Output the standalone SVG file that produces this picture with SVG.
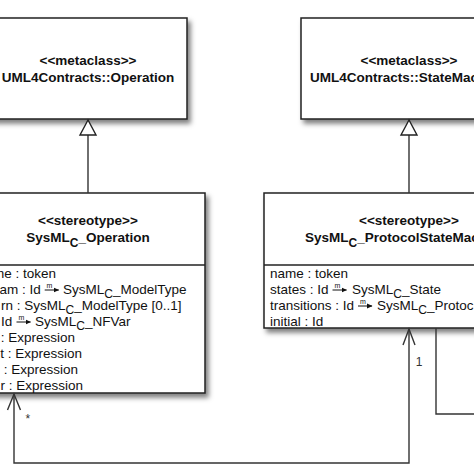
<svg xmlns="http://www.w3.org/2000/svg" width="474" height="474" viewBox="0 0 474 474">
<defs>
<filter id="sh" x="-10%" y="-10%" width="130%" height="140%">
<feDropShadow dx="3" dy="4" stdDeviation="2.5" flood-color="#000" flood-opacity="0.5"/>
</filter>
<marker id="mh" markerWidth="6" markerHeight="6" refX="5" refY="3" orient="auto" markerUnits="userSpaceOnUse">
<path d="M0,0.5 L5.5,3 L0,5.5 Z" fill="#111"/>
</marker>
<style>
.box{fill:#fff;stroke:#222;stroke-width:1.5;filter:url(#sh)}
.dv{stroke:#222;stroke-width:1.5}
.ln{stroke:#333;stroke-width:1.4;fill:none}
.tri{fill:#fff;stroke:#222;stroke-width:1.4}
.t{font-family:"Liberation Sans",Arial,Helvetica,sans-serif;font-size:13.5px;fill:#111}
.b{font-weight:bold}
.sub{font-size:12px}
.mm{font-family:"Liberation Sans",Arial,sans-serif;font-size:7px;fill:#111}
.ma{stroke:#111;stroke-width:1;fill:none}
.lbl{font-family:"Liberation Sans",Arial,sans-serif;font-size:12px;fill:#333}
</style>
</defs>
<rect width="474" height="474" fill="#fff"/>

<g id="op_meta">
<rect class="box" x="-11" y="18" width="198" height="101"/>
<text class="t b" x="88" y="65" text-anchor="middle">&lt;&lt;metaclass&gt;&gt;</text>
<text class="t b" x="88" y="82" text-anchor="middle">UML4Contracts::Operation</text>
</g>

<g id="sm_meta">
<rect class="box" x="301" y="18" width="230" height="101"/>
<text class="t b" x="409" y="65" text-anchor="middle">&lt;&lt;metaclass&gt;&gt;</text>
<text class="t b" x="310" y="82">UML4Contracts::StateMac</text>
</g>

<g id="op_stereo">
<rect class="box" x="-29" y="193" width="234" height="200"/>
<line class="dv" x1="-29" y1="265" x2="205" y2="265"/>
<text class="t b" x="88" y="225" text-anchor="middle">&lt;&lt;stereotype&gt;&gt;</text>
<text class="t b" x="88" y="242" text-anchor="middle">SysML<tspan class="sub" dy="5">C</tspan><tspan dy="-5">_Operation</tspan></text>
<text class="t" x="-7" y="278">me : token</text>
<text class="t" x="-0.6" y="294">am : Id</text>
<text class="mm" x="49.5" y="288" text-anchor="middle">m</text>
<path class="ma" d="M44.7,290 L58.7,290" marker-end="url(#mh)"/>
<text class="t" x="63" y="294">SysML<tspan class="sub" dy="4">C</tspan><tspan dy="-4">_ModelType</tspan></text>
<text class="t" x="1" y="310">rn : SysML<tspan class="sub" dy="4">C</tspan><tspan dy="-4">_ModelType [0..1]</tspan></text>
<text class="t" x="1" y="326">Id</text>
<text class="mm" x="21.5" y="320" text-anchor="middle">m</text>
<path class="ma" d="M16.5,322 L30.5,322" marker-end="url(#mh)"/>
<text class="t" x="35" y="326">SysML<tspan class="sub" dy="4">C</tspan><tspan dy="-4">_NFVar</tspan></text>
<text class="t" x="0.7" y="342">: Expression</text>
<text class="t" x="0.2" y="358">t : Expression</text>
<text class="t" x="3.7" y="374">: Expression</text>
<text class="t" x="0.5" y="390">r : Expression</text>
</g>

<g id="psm_stereo">
<rect class="box" x="264" y="193" width="290" height="135"/>
<line class="dv" x1="264" y1="265" x2="554" y2="265"/>
<text class="t b" x="409" y="225" text-anchor="middle">&lt;&lt;stereotype&gt;&gt;</text>
<text class="t b" x="305" y="242">SysML<tspan class="sub" dy="5">C</tspan><tspan dy="-5">_ProtocolStateMac</tspan></text>
<text class="t" x="270" y="278">name : token</text>
<text class="t" x="270" y="294">states : Id</text>
<text class="mm" x="337.5" y="288" text-anchor="middle">m</text>
<path class="ma" d="M332.5,290 L346.5,290" marker-end="url(#mh)"/>
<text class="t" x="352" y="294">SysML<tspan class="sub" dy="4">C</tspan><tspan dy="-4">_State</tspan></text>
<text class="t" x="270" y="310">transitions : Id</text>
<text class="mm" x="363" y="304" text-anchor="middle">m</text>
<path class="ma" d="M358,306 L372,306" marker-end="url(#mh)"/>
<text class="t" x="377" y="310">SysML<tspan class="sub" dy="4">C</tspan><tspan dy="-4">_Protoc</tspan></text>
<text class="t" x="270" y="326">initial : Id</text>
</g>

<g id="connectors">
<line class="ln" x1="88" y1="135" x2="88" y2="193"/>
<polygon class="tri" points="88,120 80,135 96,135"/>
<line class="ln" x1="409" y1="135" x2="409" y2="193"/>
<polygon class="tri" points="409,120 401,135 417,135"/>
<polyline class="ln" points="14,394 14,463 409,463 409,329"/>
<polyline class="ln" points="7.5,410 14,394 20.5,410"/>
<polyline class="ln" points="403,345 409,329 415,345"/>
<polyline class="ln" points="436,328 436,414 476,414"/>
<text class="lbl" x="25.5" y="423">*</text>
<text class="lbl" x="415.7" y="366">1</text>
</g>
</svg>
